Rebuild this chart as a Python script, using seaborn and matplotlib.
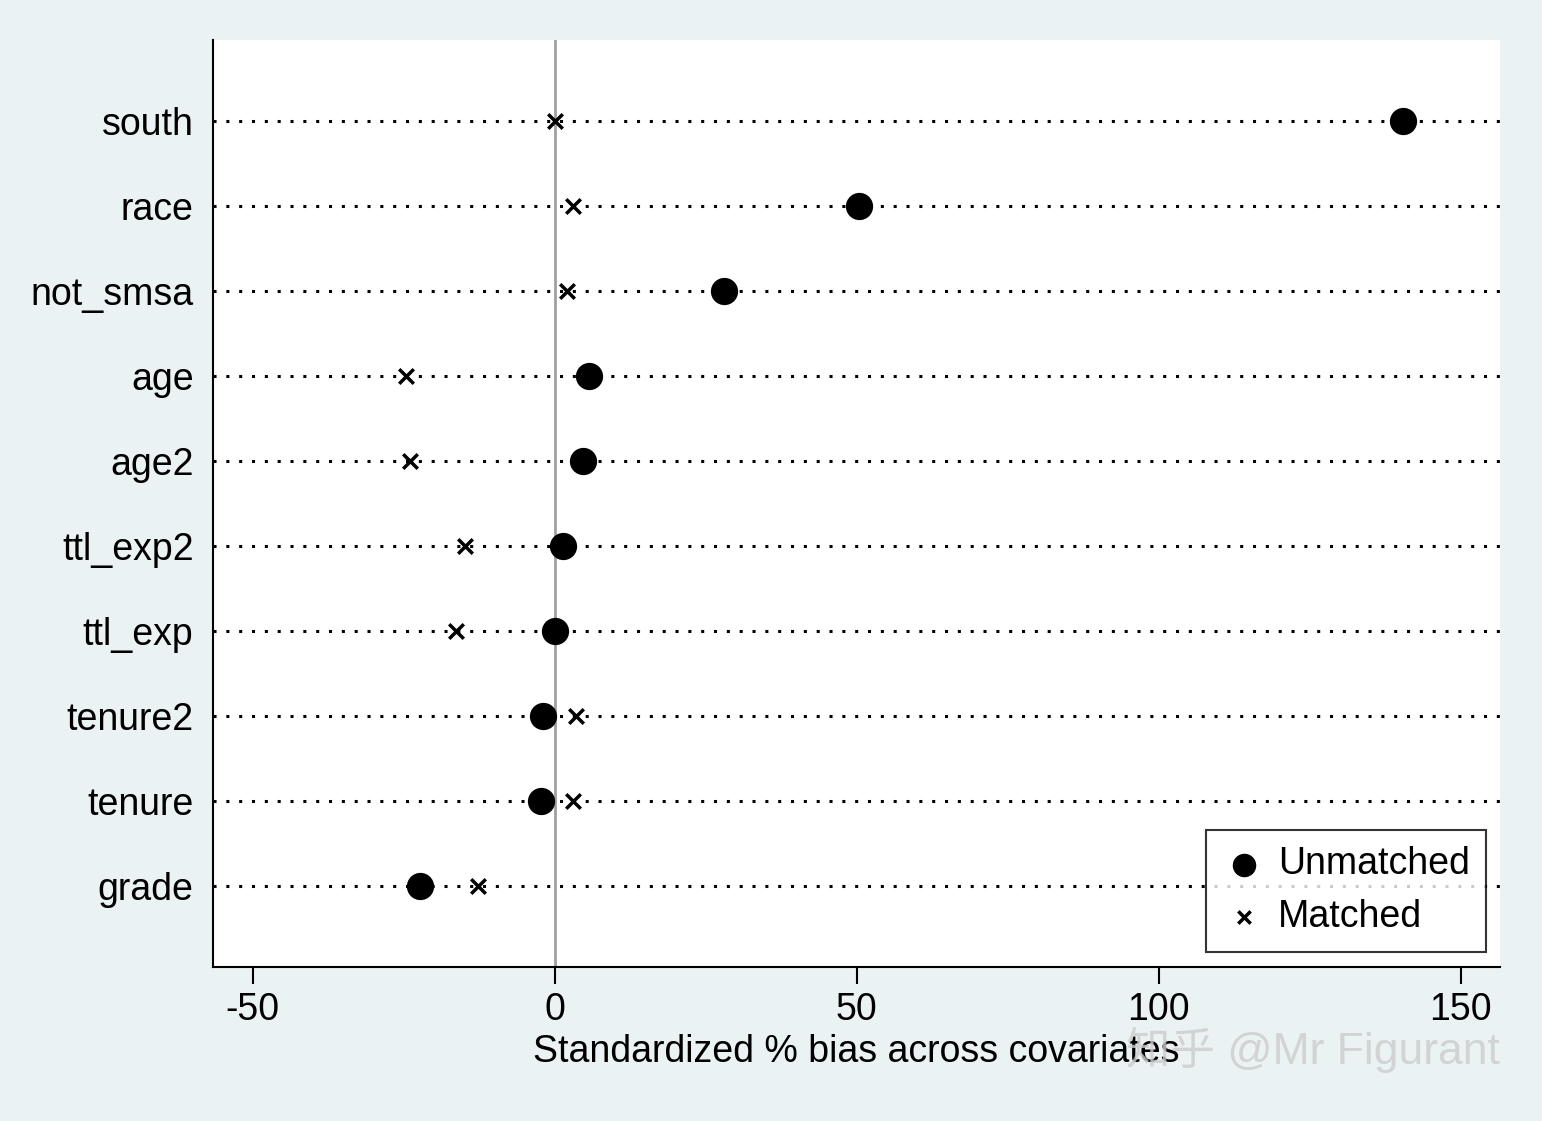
import matplotlib
matplotlib.use("Agg")
import matplotlib.pyplot as plt
import seaborn as sns
import pandas as pd

covariates = ["south", "race", "not_smsa", "age", "age2", "ttl_exp2", "ttl_exp", "tenure2", "tenure", "grade"]
unmatched = [140.4, 50.3, 28.0, 5.6, 4.6, 1.3, 0.0, -2.0, -2.3, -22.4]
matched = [0.0, 3.0, 2.0, -24.7, -24.0, -14.9, -16.4, 3.5, 3.0, -12.7]
xticks = [-50, 0, 50, 100, 150]

sns.set_style("white")
plt.rcParams["font.family"] = ["Liberation Sans", "Noto Sans CJK SC", "DejaVu Sans"]
plt.rcParams["text.color"] = "black"
plt.rcParams["xtick.color"] = "black"
plt.rcParams["ytick.color"] = "black"
plt.rcParams["axes.labelcolor"] = "black"

fig = plt.figure(figsize=(15.42, 11.21), dpi=100)
fig.patch.set_facecolor("#eaf2f3")
ax = fig.add_axes([213/1542, 1-967/1121, (1500-213)/1542, (967-40)/1121])
ax.set_facecolor("white")

pos = list(range(len(covariates)))
for p in pos:
    ax.axhline(p, color="black", linestyle=(0, (1, 3.2)), linewidth=2.2, zorder=1)
ax.axvline(0, color="#a0a0a0", linewidth=2, zorder=1)

df_u = pd.DataFrame({"x": unmatched, "y": pos})
df_m = pd.DataFrame({"x": matched, "y": pos})
sns.scatterplot(data=df_u, x="x", y="y", ax=ax, marker="o", s=330, color="black",
                edgecolor="black", zorder=3, label="Unmatched")
sns.scatterplot(data=df_m, x="x", y="y", ax=ax, marker="x", s=110, color="black",
                linewidth=2.5, zorder=3, label="Matched")

ax.set_xlim(-56.6, 156.5)
ax.set_ylim(9.95, -0.95)
ax.set_yticks(pos)
ax.set_yticklabels(covariates, fontsize=27)
ax.set_xticks(xticks)
ax.set_xticklabels([str(t) for t in xticks], fontsize=27)
ax.tick_params(axis="x", length=12, width=1.5, color="black", pad=6, bottom=True)
ax.tick_params(axis="y", length=0, pad=14)
ax.set_xlabel("Standardized % bias across covariates", fontsize=27, labelpad=4)
ax.set_ylabel("")
for s in ["top", "right"]:
    ax.spines[s].set_visible(False)
for s in ["left", "bottom"]:
    ax.spines[s].set_color("black")
    ax.spines[s].set_linewidth(1.5)

leg = ax.legend(loc="lower right", bbox_to_anchor=(0.9895, 0.016), borderaxespad=0,
                fontsize=27, frameon=True,
                fancybox=False, edgecolor="black", handletextpad=0.35, borderpad=0.45,
                markerscale=0.85, labelspacing=0.45, handlelength=1.1)
leg.get_frame().set_linewidth(1.5)

fig.text(1500/1542, 1-1050/1121, "知乎 @Mr Figurant", fontsize=32, color="#cccccc",
         ha="right", va="center", alpha=0.8)

fig.savefig("out.png", dpi=100, facecolor=fig.get_facecolor())
